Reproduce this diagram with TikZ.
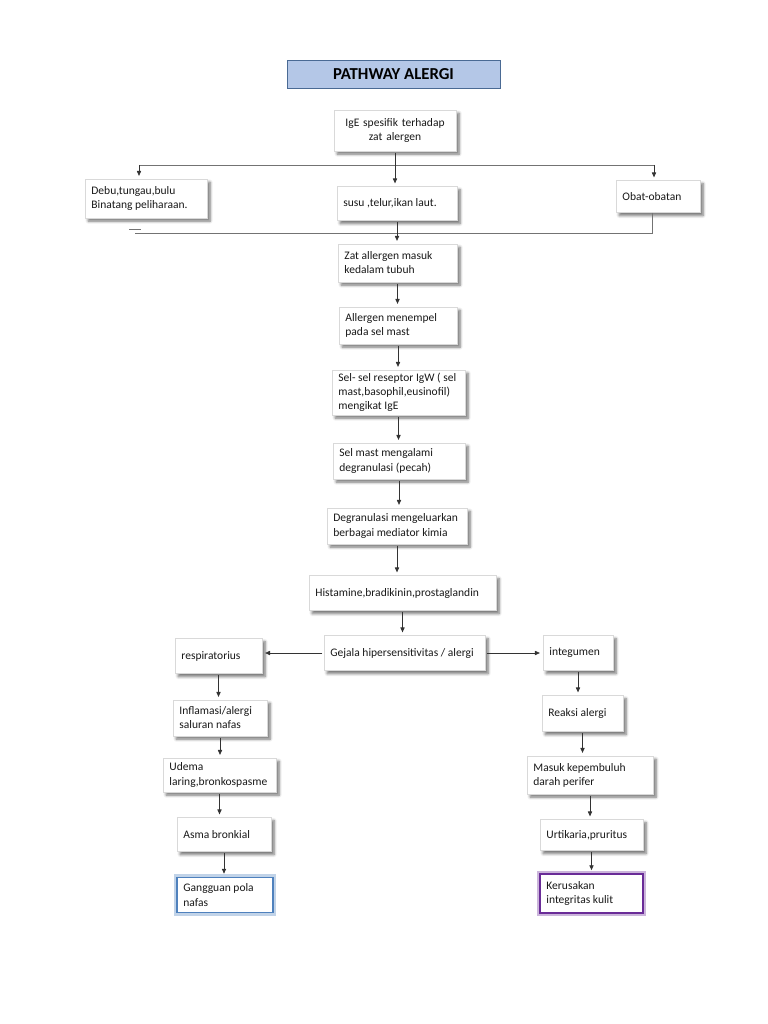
\documentclass[tikz,border=0pt]{standalone}
\usepackage{fontspec}
\setmainfont{Carlito}
\usetikzlibrary{arrows.meta,shadows.blur}
\definecolor{judulbiru}{HTML}{B4C7E7}
\definecolor{judulgaris}{HTML}{4A6A94}
\definecolor{birupola}{HTML}{4F81BD}
\definecolor{unguk}{HTML}{6A2C98}
\hyphenpenalty=10000
\exhyphenpenalty=10000

\begin{document}
\begin{tikzpicture}[x=0.025cm,y=-0.025cm,
    font=\fontsize{8.2}{10}\selectfont,
    ukuran/.style 2 args={fill=white, text=black!90, inner xsep=0.16cm, inner ysep=0pt,
        align=flush left, minimum width=#1*0.025cm, text width=#1*0.025cm-0.32cm,
        minimum height=#2*0.025cm},
    kotak/.style 2 args={ukuran={#1}{#2}, draw=gray!30,
        blur shadow={shadow xshift=2.2pt, shadow yshift=-2.2pt, shadow blur steps=6, shadow opacity=55}},
    akhir/.style={draw=#1, line width=1.4pt, preaction={draw=#1!35, line width=4.5pt}},
    panah/.style={draw=black!80, line width=0.6pt, -{Triangle[length=3.5pt,width=3pt]},
        shorten <=1pt, shorten >=2pt},
    garis/.style={draw=black!55, line width=0.6pt}]

    \useasboundingbox (0,0) rectangle (768,1024);

    % judul
    \node[draw=judulgaris, fill=judulbiru, minimum width=213*0.025cm, minimum height=28*0.025cm,
        font=\fontsize{11.9}{13}\selectfont\bfseries] (judul) at (393.5,74) {PATHWAY ALERGI};

    % penyebab
    \node[kotak={122}{41}, align=center] (ige) at (395,130.5) {IgE spesifik terhadap\\zat alergen};
    \node[kotak={122}{39}] (debu) at (146,198.5) {Debu,tungau,bulu\\Binatang peliharaan.};
    \node[kotak={120}{34}] (susu) at (397,203.5) {susu ,telur,ikan laut.};
    \node[kotak={84}{32}] (obat) at (658,196.5) {Obat-obatan};

    % jalur tengah
    \node[kotak={119}{38}] (zat) at (397.5,263) {Zat allergen masuk\\kedalam tubuh};
    \node[kotak={118}{37}] (menempel) at (398,325.5) {Allergen menempel\\pada sel mast};
    \node[kotak={133}{45}] (reseptor) at (398.5,392.5) {\mbox{Sel- sel reseptor IgW ( sel}\\mast,basophil,eusinofil)\\mengikat IgE};
    \node[kotak={132}{36}] (selmast) at (399,461) {Sel mast mengalami\\degranulasi (pecah)};
    \node[kotak={140}{36}] (degranulasi) at (397,526) {Degranulasi mengeluarkan\\berbagai mediator kimia};
    \node[kotak={187}{35}] (histamin) at (402.5,593) {Histamine,bradikinin,prostaglandin};
    \node[kotak={161}{35}] (gejala) at (404.5,653) {Gejala hipersensitivitas / alergi};

    % kiri
    \node[kotak={87}{35}] (respirasi) at (218.5,656) {respiratorius};
    \node[kotak={94}{36}] (inflamasi) at (220,718) {Inflamasi/alergi\\saluran nafas};
    \node[kotak={113}{34}] (udema) at (219.5,775) {Udema\\laring,bronkospasme};
    \node[kotak={94}{34}] (asma) at (224,834.5) {Asma bronkial};
    \node[ukuran={96}{35}, akhir=birupola] (gangguan) at (225,895) {Gangguan pola\\nafas};

    % kanan
    \node[kotak={70}{35}] (integumen) at (578,653) {integumen};
    \node[kotak={81}{36}] (reaksi) at (582.5,713.5) {Reaksi alergi};
    \node[kotak={126}{38}] (masuk) at (590,775) {Masuk kepembuluh\\darah perifer};
    \node[kotak={103}{31}] (urtikaria) at (591.5,835) {Urtikaria,pruritus};
    \node[ukuran={103}{39}, akhir=unguk] (kerusakan) at (591.5,893.5) {Kerusakan\\integritas kulit};

    % garis cabang
    \coordinate (kiriatas) at (139,165);
    \coordinate (kananatas) at (654,165);
    \coordinate (kiribawah) at (135,233);
    \coordinate (kananbawah) at (652,233);

    \draw[garis] (kiriatas) -- (kananatas);
    \draw[panah, shorten <=0pt] (kiriatas) -- (kiriatas |- debu.north);
    \draw[panah, shorten <=0pt] (kananatas) -- (kananatas |- obat.north);
    \draw[panah] (ige.south) -- (ige.south |- susu.north);
    \draw[garis] (kananbawah |- obat.south) -- (kananbawah) -- (kiribawah);
    \draw[garis] (129,229) -- (141,229);
    \draw[panah] (susu.south) -- (susu.south |- zat.north);

    \draw[panah] (zat.south) -- (zat.south |- menempel.north);
    \draw[panah] (menempel.south) -- (menempel.south |- reseptor.north);
    \draw[panah] (reseptor.south) -- (reseptor.south |- selmast.north);
    \draw[panah] (selmast.south) -- (selmast.south |- degranulasi.north);
    \draw[panah] (degranulasi.south) -- (degranulasi.south |- histamin.north);
    \draw[panah] (histamin.south) -- (histamin.south |- gejala.north);

    \draw[panah] (gejala.west) -- (gejala.west -| respirasi.east);
    \draw[panah] (gejala.east) -- (gejala.east -| integumen.west);

    \draw[panah] (respirasi.south) -- (respirasi.south |- inflamasi.north);
    \draw[panah] (inflamasi.south) -- (inflamasi.south |- udema.north);
    \draw[panah] (udema.south) -- (udema.south |- asma.north);
    \draw[panah] (asma.south) -- (asma.south |- gangguan.north);

    \draw[panah] (integumen.south) -- (integumen.south |- reaksi.north);
    \draw[panah] (reaksi.south) -- (reaksi.south |- masuk.north);
    \draw[panah] (masuk.south) -- (masuk.south |- urtikaria.north);
    \draw[panah] (urtikaria.south) -- (urtikaria.south |- kerusakan.north);
\end{tikzpicture}
\end{document}
